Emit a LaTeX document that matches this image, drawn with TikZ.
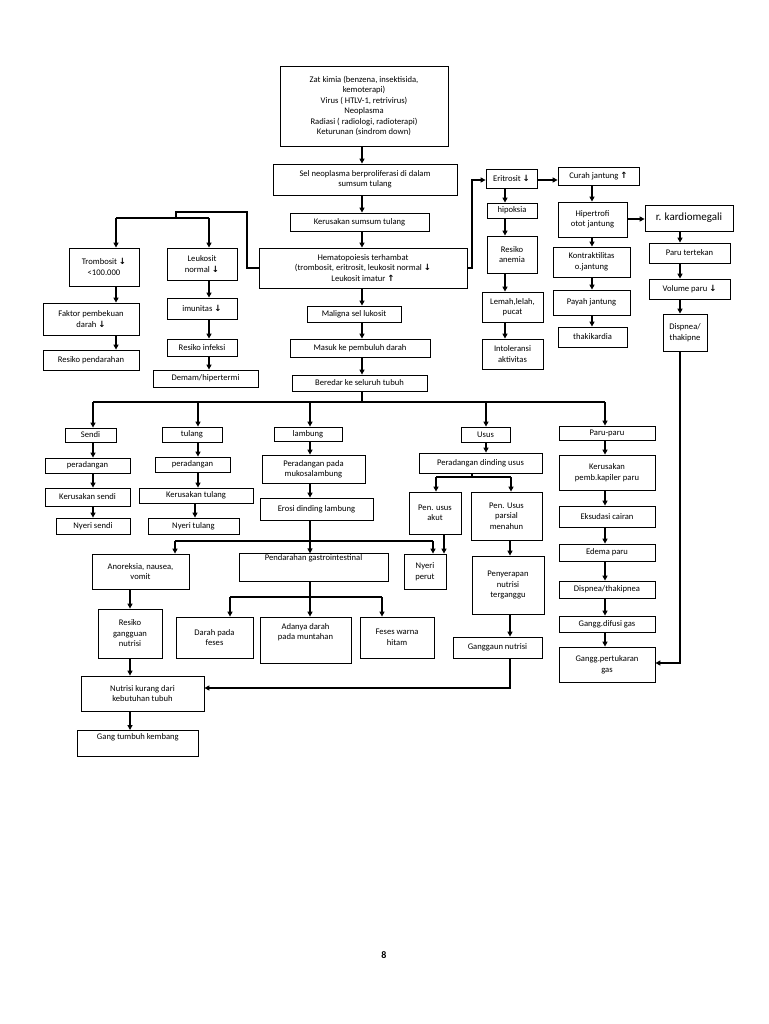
\documentclass[tikz,border=0pt]{standalone}
\usepackage{fontspec}
\setmainfont{Carlito}
\newfontfamily\sym{DejaVu Sans}
\usetikzlibrary{arrows.meta}
\newcommand\dn{{\sym\bfseries ↓}}
\newcommand\up{{\sym\bfseries ↑}}
\newcommand\bx[6]{\pgfmathsetmacro\bw{#4-#2}\pgfmathsetmacro\bh{#5-#3}%
\node[bx,minimum width=\bw pt,minimum height=\bh pt] (#1) at ({(#2+#4)/2},{(#3+#5)/2}) {#6};}
\begin{document}
\begin{tikzpicture}[x=1pt,y=-1pt,
 bx/.style={draw,line width=0.8pt,align=center,inner sep=1pt,font=\fontsize{8.6}{10.5}\selectfont},
 ar/.style={line width=1.8pt,-{Triangle[length=5pt,width=5pt]}},
 ln/.style={line width=1.8pt}]
\useasboundingbox (0,0) rectangle (768,1024);
\fill[white] (0,0) rectangle (768,1024);
% center column
\bx{top}{280}{66}{448}{146}{Zat kimia (benzena, insektisida,\\kemoterapi)\\Virus ( HTLV-1, retrivirus)\\Neoplasma\\Radiasi ( radiologi, radioterapi)\\Keturunan (sindrom down)}
\bx{sel}{273}{164}{457}{195}{Sel neoplasma berproliferasi di dalam\\sumsum tulang}
\bx{ker}{290}{213}{429}{231}{Kerusakan sumsum tulang}
\bx{hem}{259}{248}{467}{288}{Hematopoiesis terhambat\\(trombosit, eritrosit, leukosit normal \dn\\Leukosit imatur \up}
\bx{mal}{307}{306}{401}{322}{Maligna sel lukosit}
\bx{mas}{290}{339}{430}{357}{Masuk ke pembuluh darah}
\bx{ber}{292}{375}{427}{391}{Beredar ke seluruh tubuh}
\coordinate (cx) at (362,0);
\draw[ar] (top.south -| cx) -- (sel.north -| cx);
\draw[ar] (sel.south -| cx) -- (ker.north -| cx);
\draw[ar] (ker.south -| cx) -- (hem.north -| cx);
\draw[ar] (hem.south -| cx) -- (mal.north -| cx);
\draw[ar] (mal.south -| cx) -- (mas.north -| cx);
\draw[ar] (mas.south -| cx) -- (ber.north -| cx);
% left
\bx{tro}{69}{248}{139}{286}{Trombosit \dn\\<100.000}
\bx{leu}{167}{248}{237}{280}{Leukosit\\normal \dn}
\bx{fak}{43}{303}{139}{335}{Faktor pembekuan\\darah \dn}
\bx{imu}{167}{298}{237}{319}{imunitas \dn}
\bx{rpd}{43}{350}{139}{370}{Resiko pendarahan}
\bx{rin}{167}{339}{237}{356}{Resiko infeksi}
\bx{dem}{153}{370}{258}{387}{Demam/hipertermi}
\coordinate (tc) at (116,0); \coordinate (lc) at (209,0);
\draw[ln] (hem.west) -- (247,268) -- (247,212) -- (176,212) -- (176,218);
\draw[ln] (116,218) -- (209,218);
\draw[ar] (116,218) -- (tro.north -| tc);
\draw[ar] (209,218) -- (leu.north -| lc);
\draw[ar] (tro.south -| tc) -- (fak.north -| tc);
\draw[ar] (fak.south -| tc) -- (rpd.north -| tc);
\draw[ar] (leu.south -| lc) -- (imu.north -| lc);
\draw[ar] (imu.south -| lc) -- (rin.north -| lc);
\draw[ar] (rin.south -| lc) -- (dem.north -| lc);
% right
\bx{eri}{486}{169}{537}{188}{Eritrosit \dn}
\bx{cur}{558}{167}{639}{185}{Curah jantung \up}
\bx{hip}{487}{203}{537}{218}{hipoksia}
\bx{ran}{487}{236}{537}{273}{Resiko\\anemia}
\bx{lem}{482}{292}{543}{322}{Lemah,lelah,\\pucat}
\bx{int}{482}{339}{543}{369}{Intoleransi\\aktivitas}
\bx{hpt}{558}{202}{627}{237}{Hipertrofi\\otot jantung}
\node[bx,minimum width=88pt,minimum height=26pt,font=\fontsize{11}{13}\selectfont] (kar) at (689,218) {r. kardiomegali};
\bx{kon}{553}{247}{630}{277}{Kontraktilitas\\o.jantung}
\bx{pay}{553}{290}{630}{315}{Payah jantung}
\bx{tha}{558}{327}{627}{347}{thakikardia}
\bx{pte}{649}{243}{730}{263}{Paru tertekan}
\bx{vol}{649}{279}{730}{299}{Volume paru \dn}
\bx{dis}{663}{314}{707}{351}{Dispnea/\\thakipne}
\coordinate (ec) at (505,0); \coordinate (jc) at (592,0); \coordinate (kc) at (680,0);
\draw[ar] (hem.east) -- (472,268) -- (472,180) -- (eri.west |- 0,180);
\draw[ar] (eri.east |- 0,180) -- (cur.west |- 0,180);
\draw[ar] (eri.south -| ec) -- (hip.north -| ec);
\draw[ar] (hip.south -| ec) -- (ran.north -| ec);
\draw[ar] (ran.south -| ec) -- (lem.north -| ec);
\draw[ar] (lem.south -| ec) -- (int.north -| ec);
\draw[ar] (cur.south -| jc) -- (hpt.north -| jc);
\draw[ar] (hpt.south -| jc) -- (kon.north -| jc);
\draw[ar] (kon.south -| jc) -- (pay.north -| jc);
\draw[ar] (pay.south -| jc) -- (tha.north -| jc);
\draw[ar] (hpt.east |- 0,219) -- (kar.west |- 0,219);
\draw[ar] (kar.south -| kc) -- (pte.north -| kc);
\draw[ar] (pte.south -| kc) -- (vol.north -| kc);
\draw[ar] (vol.south -| kc) -- (dis.north -| kc);
% organs
\bx{sen}{65}{428}{116}{442}{Sendi}
\bx{tul}{162}{427}{222}{442}{tulang}
\bx{lam}{274}{427}{342}{441}{lambung}
\bx{usu}{461}{427}{510}{442}{Usus}
\bx{par}{559}{426}{655}{440}{Paru-paru}
\draw[ln] (ber.south -| cx) -- (362,402);
\draw[ln] (93,402) -- (605,402);
\foreach \c/\n in {93/sen,198/tul,310/lam,486/usu,605/par} \draw[ar] (\c,402) -- (\n.north -| \c,0);
\bx{pe1}{45}{458}{130}{473}{peradangan}
\bx{pe2}{155}{457}{230}{472}{peradangan}
\bx{pmk}{262}{455}{365}{483}{Peradangan pada\\mukosalambung}
\bx{pdu}{419}{453}{542}{473}{Peradangan dinding usus}
\bx{kpk}{559}{455}{655}{490}{Kerusakan\\pemb.kapiler paru}
\bx{kse}{45}{488}{130}{506}{Kerusakan sendi}
\bx{ktu}{139}{488}{253}{503}{Kerusakan tulang}
\bx{ero}{260}{498}{373}{520}{Erosi dinding lambung}
\bx{pua}{409}{492}{461}{534}{Pen. usus\\akut}
\bx{pup}{471}{492}{542}{540}{Pen. Usus\\parsial\\menahun}
\bx{eks}{559}{506}{655}{527}{Eksudasi cairan}
\bx{nse}{56}{518}{130}{534}{Nyeri sendi}
\bx{ntu}{148}{518}{239}{534}{Nyeri tulang}
\bx{ede}{559}{544}{655}{561}{Edema paru}
\bx{ano}{92}{554}{189}{589}{Anoreksia, nausea,\\vomit}
\bx{pgi}{239}{554}{388}{581}{Pendarahan gastrointestinal\\[9pt]}
\bx{npe}{404}{554}{446}{589}{Nyeri\\perut}
\bx{pny}{472}{556}{544}{614}{Penyerapan\\nutrisi\\terganggu}
\bx{dth}{559}{581}{655}{598}{Dispnea/thakipnea}
\bx{rgn}{98}{609}{162}{658}{Resiko\\gangguan\\nutrisi}
\bx{dpf}{176}{617}{253}{658}{Darah pada\\feses}
\bx{adm}{260}{617}{351}{663}{Adanya darah\\pada muntahan\\[6pt]}
\bx{fwh}{360}{617}{434}{658}{Feses warna\\hitam}
\bx{gdg}{559}{616}{655}{632}{Gangg.difusi gas}
\bx{gpg}{559}{647}{655}{682}{Gangg.pertukaran\\gas}
\bx{gnu}{453}{637}{542}{658}{Ganggaun nutrisi}
\bx{nkd}{81}{676}{204}{711}{Nutrisi kurang dari\\kebutuhan tubuh}
\node[bx,minimum width=121pt,minimum height=26pt,anchor=north west,text depth=14pt] (gtk) at (77,730) {Gang tumbuh kembang};
% sendi / tulang
\draw[ar] (sen.south -| 93,0) -- (pe1.north -| 93,0);
\draw[ar] (pe1.south -| 93,0) -- (kse.north -| 93,0);
\draw[ar] (kse.south -| 93,0) -- (nse.north -| 93,0);
\draw[ar] (tul.south -| 198,0) -- (pe2.north -| 198,0);
\draw[ar] (pe2.south -| 198,0) -- (ktu.north -| 198,0);
\draw[ar] (ktu.south -| 195,0) -- (ntu.north -| 195,0);
% lambung
\draw[ar] (lam.south -| 310,0) -- (pmk.north -| 310,0);
\draw[ar] (pmk.south -| 310,0) -- (ero.north -| 310,0);
\draw[ln] (ero.south -| 310,0) -- (310,541);
\draw[ln] (175,541) -- (433,541);
\draw[ar] (175,541) -- (ano.north -| 175,0);
\draw[ar] (310,541) -- (pgi.north -| 310,0);
\draw[ar] (433,541) -- (npe.north -| 433,0);
\draw[ar] (pua.south -| 444,0) -- (npe.north -| 444,0);
\draw[ar] (ano.south -| 130,0) -- (rgn.north -| 130,0);
\draw[ar] (rgn.south -| 130,0) -- (nkd.north -| 130,0);
\draw[ar] (nkd.south -| 130,0) -- (gtk.north -| 130,0);
\draw[ln] (pgi.south -| 310,0) -- (310,597);
\draw[ln] (230,597) -- (382,597);
\draw[ar] (230,597) -- (dpf.north -| 230,0);
\draw[ar] (310,597) -- (adm.north -| 310,0);
\draw[ar] (382,597) -- (fwh.north -| 382,0);
% usus
\draw[ar] (usu.south -| 486,0) -- (pdu.north -| 486,0);
\draw[ln] (pdu.south -| 472,0) -- (472,477);
\draw[ln] (436,477) -- (511,477);
\draw[ar] (436,477) -- (pua.north -| 436,0);
\draw[ar] (511,477) -- (pup.north -| 511,0);
\draw[ar] (pup.south -| 510,0) -- (pny.north -| 510,0);
\draw[ar] (pny.south -| 510,0) -- (gnu.north -| 510,0);
\draw[ar] (gnu.south -| 510,0) -- (510,688) -- (nkd.east |- 0,688);
% paru
\draw[ar] (par.south -| 605,0) -- (kpk.north -| 605,0);
\draw[ar] (kpk.south -| 605,0) -- (eks.north -| 605,0);
\draw[ar] (eks.south -| 605,0) -- (ede.north -| 605,0);
\draw[ar] (ede.south -| 605,0) -- (dth.north -| 605,0);
\draw[ar] (dth.south -| 605,0) -- (gdg.north -| 605,0);
\draw[ar] (gdg.south -| 605,0) -- (gpg.north -| 605,0);
\draw[ar] (dis.south -| kc) -- (680,663) -- (gpg.east |- 0,663);
\node[font=\bfseries\fontsize{10}{12}\selectfont] (pg) at (384,955) {8};
\end{tikzpicture}
\end{document}
